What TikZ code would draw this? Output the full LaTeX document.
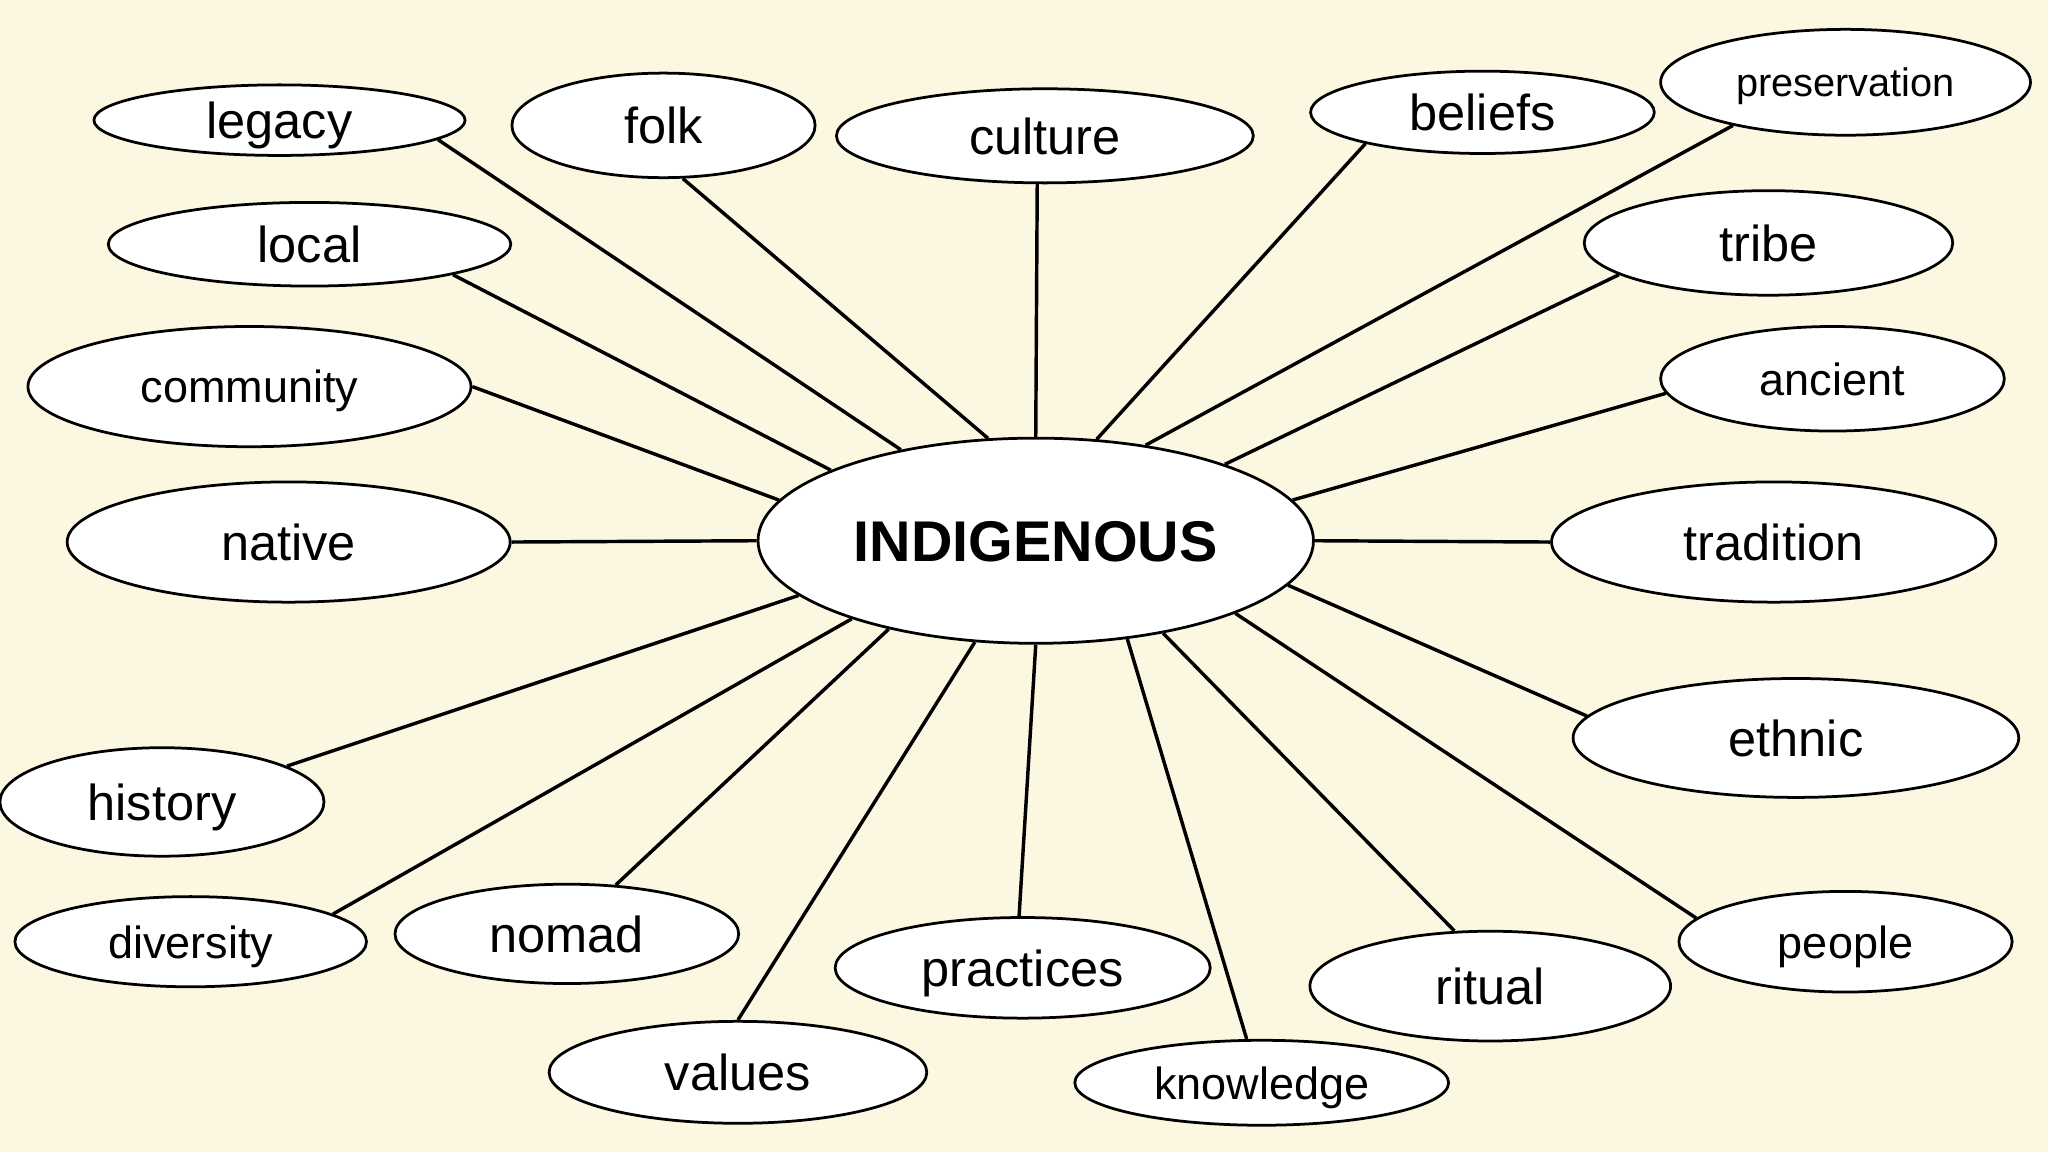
\documentclass[tikz,border=0pt]{standalone}
\usepackage{fontspec}
\setmainfont{Liberation Sans}
\usetikzlibrary{shapes.geometric}
\definecolor{cream}{HTML}{FCF7E0}
\begin{document}
\begin{tikzpicture}[x=0.01cm, y=-0.01cm,
    word/.style={ellipse, draw, fill=white, line width=0.6pt, inner sep=0pt,
      text height=8pt, text depth=0pt, font=\fontsize{11}{13}\selectfont},
    midword/.style={word, text height=7.1pt, font=\fontsize{9.8}{12}\selectfont},
    smallword/.style={word, text height=6.3pt, font=\fontsize{8.65}{10}\selectfont},
    hub/.style={word, text height=9pt, font=\fontsize{12.5}{15}\selectfont\bfseries}]
      \fill[cream] (0,0) rectangle (1568,882);
      \useasboundingbox (0,0) rectangle (1568,882);
      \draw
        (793,414) node[hub, minimum width=4.25cm, minimum height=1.57cm] (indigenous){INDIGENOUS}
        (214,92) node[word, minimum width=2.84cm, minimum height=0.54cm] (legacy){legacy}
        (508,96) node[word, minimum width=2.32cm, minimum height=0.80cm] (folk){folk}
        (800,104) node[word, minimum width=3.19cm, minimum height=0.72cm] (culture){culture}
        (1135,86) node[word, minimum width=2.63cm, minimum height=0.63cm] (beliefs){beliefs}
        (1413,63) node[smallword, minimum width=2.83cm, minimum height=0.81cm] (preservation){preservation}
        (237,187) node[word, minimum width=3.08cm, minimum height=0.64cm] (local){local}
        (1354,186) node[word, minimum width=2.82cm, minimum height=0.80cm] (tribe){tribe}
        (191,296) node[midword, minimum width=3.39cm, minimum height=0.92cm] (community){community}
        (1403,290) node[midword, minimum width=2.63cm, minimum height=0.80cm] (ancient){ancient}
        (221,415) node[word, minimum width=3.39cm, minimum height=0.92cm] (native){native}
        (1358,415) node[word, minimum width=3.40cm, minimum height=0.92cm] (tradition){tradition}
        (124,614) node[word, minimum width=2.48cm, minimum height=0.83cm] (history){history}
        (1375,565) node[word, minimum width=3.41cm, minimum height=0.91cm] (ethnic){ethnic}
        (146,721) node[midword, minimum width=2.69cm, minimum height=0.69cm] (diversity){diversity}
        (434,715) node[word, minimum width=2.63cm, minimum height=0.76cm] (nomad){nomad}
        (783,741) node[word, minimum width=2.87cm, minimum height=0.77cm] (practices){practices}
        (565,821) node[word, minimum width=2.89cm, minimum height=0.78cm] (values){values}
        (966,829) node[midword, minimum width=2.86cm, minimum height=0.65cm] (knowledge){knowledge}
        (1141,755) node[word, minimum width=2.76cm, minimum height=0.84cm] (ritual){ritual}
        (1413,721) node[midword, minimum width=2.55cm, minimum height=0.77cm] (people){people};
      \begin{scope}[-, line width=0.75pt]
        \draw (legacy.-7.7) to (indigenous.146.7);
        \draw (folk.-70.7) to (indigenous.115.3);
        \draw (culture.-99.5) to (indigenous.90);
        \draw (beliefs.-165.7) to (indigenous.59.4);
        \draw (preservation.-159.2) to (indigenous.41.3);
        \draw (local.-12) to (indigenous.161.8);
        \draw (tribe.-168.1) to (indigenous.22.6);
        \draw (community.0) to (indigenous.171.3);
        \draw (ancient.-175.5) to (indigenous.9.65);
        \draw (native.0) to (indigenous.180);
        \draw (tradition.180) to (indigenous.0);
        \draw (history.16.3) to (indigenous.-167.5);
        \draw (diversity.11.1) to (indigenous.-157.2);
        \draw (nomad.45) to (indigenous.-149.2);
        \draw (values.90) to (indigenous.-121);
        \draw (practices.94.5) to (indigenous.-90);
        \draw (knowledge.109) to (indigenous.-47.4);
        \draw (ritual.123) to (indigenous.-36);
        \draw (people.171.2) to (indigenous.-20.5);
        \draw (ethnic.174.3) to (indigenous.-10.3);
      \end{scope}
    \end{tikzpicture}
\end{document}
